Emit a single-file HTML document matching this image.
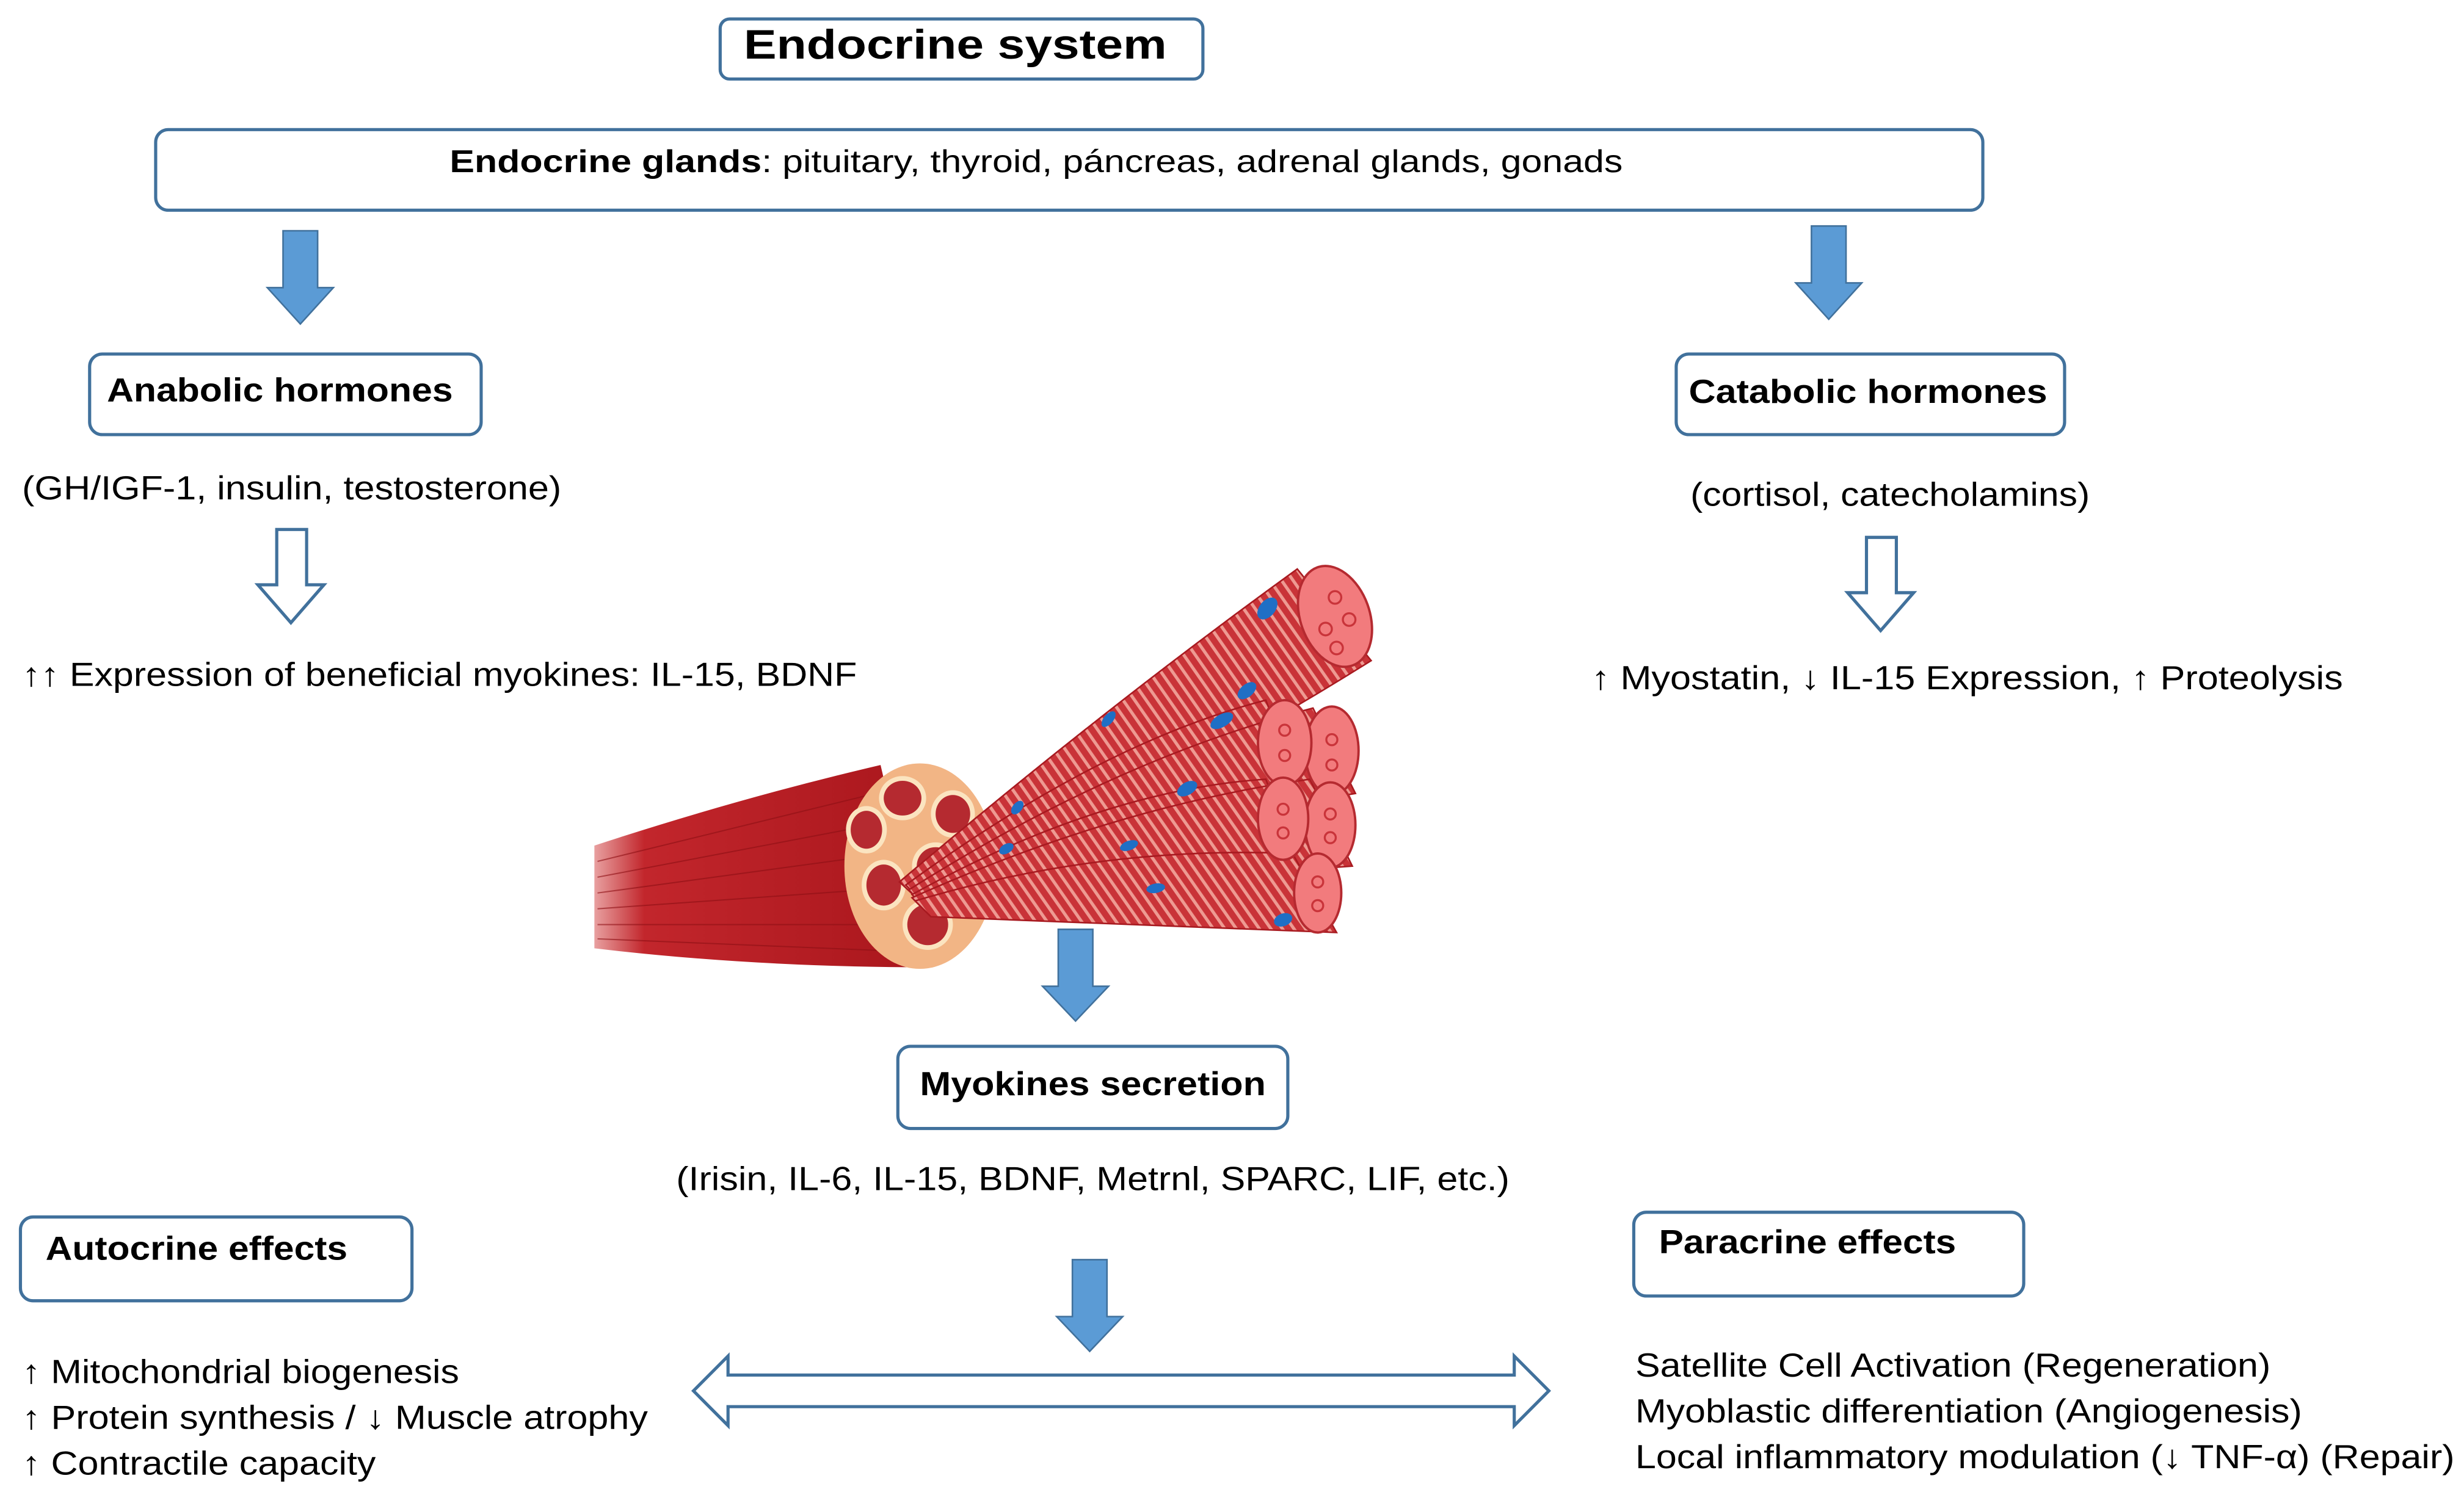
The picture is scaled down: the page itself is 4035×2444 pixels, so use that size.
<!DOCTYPE html>
<html><head><meta charset="utf-8"><style>
html,body{margin:0;padding:0;background:#fff;}
svg{display:block;}
text{font-family:"Liberation Sans",Arial,sans-serif;fill:#000;}
.b{font-weight:bold;}
</style></head><body>
<svg width="4035" height="2444" viewBox="0 0 1567 944" preserveAspectRatio="none" xmlns="http://www.w3.org/2000/svg">
<defs>
<linearGradient id="mg" x1="0" y1="0" x2="1" y2="0">
<stop offset="0" stop-color="#e8a0a0"/><stop offset="0.15" stop-color="#c2262c"/><stop offset="1" stop-color="#a9161c"/>
</linearGradient>
<pattern id="str" width="6" height="6" patternUnits="userSpaceOnUse" patternTransform="rotate(-35)">
<rect width="6" height="6" fill="#c93338"/><rect width="2" height="6" fill="#ee9a92"/>
</pattern>
</defs>
<g fill="#fff" stroke="#41719c" stroke-width="2">
<rect x="458" y="12" width="307" height="38" rx="6"/>
<rect x="99" y="82" width="1162" height="51" rx="8"/>
<rect x="57" y="224" width="249" height="51" rx="8"/>
<rect x="1066" y="224" width="247" height="51" rx="8"/>
<rect x="571" y="662" width="248" height="52" rx="8"/>
<rect x="13" y="770" width="249" height="53" rx="8"/>
<rect x="1039" y="767" width="248" height="53" rx="8"/>
</g>
<g transform="translate(0,-2)">
<text x="473" y="39" class="b" font-size="26" textLength="269" lengthAdjust="spacingAndGlyphs">Endocrine system</text>
<text x="286" y="111" font-size="20" textLength="746" lengthAdjust="spacingAndGlyphs"><tspan class="b">Endocrine glands</tspan>: pituitary, thyroid, páncreas, adrenal glands, gonads</text>
<text x="68" y="256" class="b" font-size="21" textLength="220" lengthAdjust="spacingAndGlyphs">Anabolic hormones</text>
<text x="1074" y="257" class="b" font-size="21" textLength="228" lengthAdjust="spacingAndGlyphs">Catabolic hormones</text>
<text x="14" y="318" font-size="21" textLength="343" lengthAdjust="spacingAndGlyphs">(GH/IGF-1, insulin, testosterone)</text>
<text x="1075" y="322" font-size="21" textLength="254" lengthAdjust="spacingAndGlyphs">(cortisol, catecholamins)</text>
<text x="14" y="436" font-size="21" textLength="531" lengthAdjust="spacingAndGlyphs">↑↑ Expression of beneficial myokines: IL-15, BDNF</text>
<text x="1012" y="438" font-size="21" textLength="478" lengthAdjust="spacingAndGlyphs">↑ Myostatin, ↓ IL-15 Expression, ↑ Proteolysis</text>
<text x="585" y="695" class="b" font-size="21" textLength="220" lengthAdjust="spacingAndGlyphs">Myokines secretion</text>
<text x="430" y="755" font-size="21" textLength="530" lengthAdjust="spacingAndGlyphs">(Irisin, IL-6, IL-15, BDNF, Metrnl, SPARC, LIF, etc.)</text>
<text x="29" y="799" class="b" font-size="21" textLength="192" lengthAdjust="spacingAndGlyphs">Autocrine effects</text>
<text x="1055" y="795" class="b" font-size="21" textLength="189" lengthAdjust="spacingAndGlyphs">Paracrine effects</text>
<text x="14" y="877" font-size="21" textLength="278" lengthAdjust="spacingAndGlyphs">↑ Mitochondrial biogenesis</text>
<text x="14" y="906" font-size="21" textLength="398" lengthAdjust="spacingAndGlyphs">↑ Protein synthesis / ↓ Muscle atrophy</text>
<text x="14" y="935" font-size="21" textLength="225" lengthAdjust="spacingAndGlyphs">↑ Contractile capacity</text>
<text x="1040" y="873" font-size="21" textLength="404" lengthAdjust="spacingAndGlyphs">Satellite Cell Activation (Regeneration)</text>
<text x="1040" y="902" font-size="21" textLength="424" lengthAdjust="spacingAndGlyphs">Myoblastic differentiation (Angiogenesis)</text>
<text x="1040" y="931" font-size="21" textLength="521" lengthAdjust="spacingAndGlyphs">Local inflammatory modulation (↓ TNF-α) (Repair)</text>
</g>
<g fill="#5b9bd5" stroke="#41719c" stroke-width="1">
<path d="M180 146 H202 V182 H212 L191 205 L170 182 H180 Z"/>
<path d="M1152 143 H1174 V179 H1184 L1163 202 L1142 179 H1152 Z"/>
<path d="M673 588 H695 V624 H705 L684 646 L663 624 H673 Z"/>
<path d="M682 797 H704 V833 H714 L693 855 L672 833 H682 Z"/>
</g>
<g fill="#fff" stroke="#41719c" stroke-width="2">
<path d="M176 335 H195 V370 H206 L185 394 L164 370 H176 Z"/>
<path d="M1187 340 H1206 V375 H1217 L1196 399 L1175 375 H1187 Z"/>
<path d="M441 880 L463 858 V870 H963 V858 L985 880 L963 902 V890 H463 V902 Z"/>
</g>
<g>
<path d="M378 535 Q470 505 560 484 L590 612 Q480 612 378 600 Z" fill="url(#mg)"/>
<g stroke="#8e1015" stroke-width="0.8" opacity="0.6">
<line x1="380" y1="545" x2="565" y2="500"/><line x1="380" y1="555" x2="565" y2="520"/>
<line x1="380" y1="565" x2="565" y2="540"/><line x1="380" y1="575" x2="565" y2="562"/>
<line x1="380" y1="585" x2="570" y2="585"/><line x1="380" y1="594" x2="575" y2="602"/>
</g>
<ellipse cx="585" cy="548" rx="48" ry="65" fill="#f2b585"/>
<g fill="#fbe4c0"><ellipse cx="574" cy="505" rx="15" ry="14"/><ellipse cx="606" cy="515" rx="14" ry="15"/><ellipse cx="551" cy="525" rx="13" ry="15"/><ellipse cx="595" cy="548" rx="15" ry="15"/><ellipse cx="562" cy="560" rx="14" ry="16"/><ellipse cx="590" cy="585" rx="16" ry="16"/><ellipse cx="617" cy="565" rx="11" ry="15"/></g>
<g fill="#b52a30"><ellipse cx="574" cy="505" rx="12" ry="11"/><ellipse cx="606" cy="515" rx="11" ry="12"/><ellipse cx="551" cy="525" rx="10" ry="12"/><ellipse cx="595" cy="548" rx="12" ry="12"/><ellipse cx="562" cy="560" rx="11" ry="13"/><ellipse cx="590" cy="585" rx="13" ry="13"/><ellipse cx="617" cy="565" rx="8" ry="12"/></g>
<g fill="url(#str)" stroke="#a81a20" stroke-width="1">
<path d="M572 558 Q700 450 825 360 L872 418 Q740 500 585 570 Z"/>
<path d="M576 560 Q700 470 805 443 L825 495 Q700 520 588 572 Z"/>
<path d="M578 563 Q710 480 835 448 L862 502 Q720 525 588 574 Z"/>
<path d="M580 566 Q700 500 805 493 L825 545 Q700 548 590 576 Z"/>
<path d="M580 568 Q710 510 833 493 L860 548 Q720 558 590 578 Z"/>
<path d="M582 570 Q700 535 822 540 L850 590 Q720 585 592 580 Z"/>
</g>
<g fill="#f27b7d" stroke="#b52a30" stroke-width="1.5">
<ellipse cx="849" cy="390" rx="22" ry="33" transform="rotate(-20 849 390)"/>
<ellipse cx="847" cy="475" rx="17" ry="28"/>
<ellipse cx="817" cy="470" rx="17" ry="27"/>
<ellipse cx="846" cy="522" rx="16" ry="27"/>
<ellipse cx="816" cy="518" rx="16" ry="26"/>
<ellipse cx="838" cy="565" rx="15" ry="25"/>
</g>
<g fill="none" stroke="#c9343a" stroke-width="1.3">
<circle cx="849" cy="378" r="4"/><circle cx="858" cy="392" r="4"/><circle cx="843" cy="398" r="4"/><circle cx="850" cy="410" r="4"/>
<circle cx="817" cy="462" r="3.5"/><circle cx="817" cy="478" r="3.5"/><circle cx="847" cy="468" r="3.5"/><circle cx="847" cy="484" r="3.5"/>
<circle cx="816" cy="512" r="3.5"/><circle cx="816" cy="527" r="3.5"/><circle cx="846" cy="515" r="3.5"/><circle cx="846" cy="530" r="3.5"/>
<circle cx="838" cy="558" r="3.5"/><circle cx="838" cy="573" r="3.5"/>
</g>
<g fill="#1f6fc5">
<ellipse cx="806" cy="385" rx="5" ry="8" transform="rotate(40 806 385)"/>
<ellipse cx="793" cy="437" rx="4" ry="7" transform="rotate(50 793 437)"/>
<ellipse cx="777" cy="456" rx="4" ry="8" transform="rotate(60 777 456)"/>
<ellipse cx="705" cy="455" rx="3" ry="6" transform="rotate(40 705 455)"/>
<ellipse cx="755" cy="499" rx="4" ry="7" transform="rotate(60 755 499)"/>
<ellipse cx="718" cy="535" rx="3" ry="6" transform="rotate(70 718 535)"/>
<ellipse cx="647" cy="511" rx="3" ry="5" transform="rotate(40 647 511)"/>
<ellipse cx="735" cy="562" rx="3" ry="6" transform="rotate(80 735 562)"/>
<ellipse cx="816" cy="582" rx="4" ry="6" transform="rotate(70 816 582)"/>
<ellipse cx="640" cy="537" rx="3" ry="5" transform="rotate(60 640 537)"/>
</g>
</g>
</svg>
</body></html>
